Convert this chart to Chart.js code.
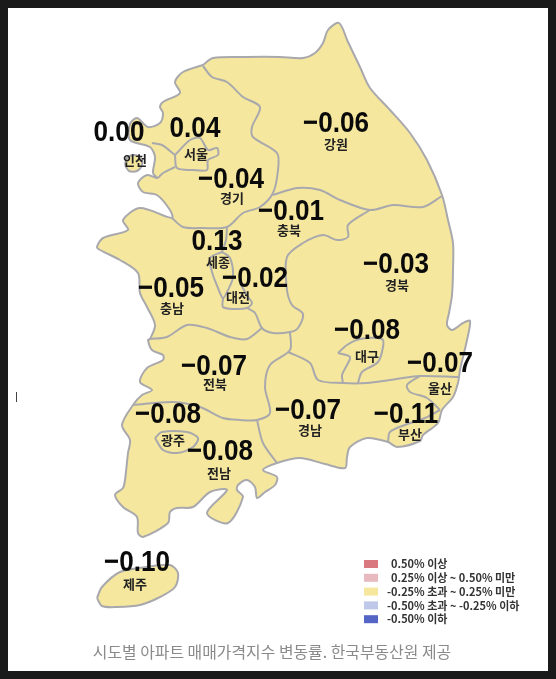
<!DOCTYPE html>
<html>
<head>
<meta charset="utf-8">
<style>
  html, body { margin: 0; padding: 0; background: #1a1a1a; }
  #panel { position: absolute; left: 8px; top: 8px; width: 540px; height: 663px; background: #fff; }
  #mapChart { position: absolute; left: 0; top: 0; filter: blur(0.35px); }
  #caption { position: absolute; left: 8px; top: 641px; width: 528px; text-align: center; color: #8a8a8a; font: 15.9px/22px "Noto Sans CJK KR"; white-space: nowrap; }
</style>
<script src="https://cdn.jsdelivr.net/npm/chart.js@4/dist/chart.umd.min.js"></script>
</head>
<body>
<div id="panel"></div>
<canvas id="mapChart" width="556" height="679"></canvas>
<div id="caption">시도별 아파트 매매가격지수 변동률. 한국부동산원 제공</div>
<script>
// region figures
const regionNames = ['인천', '서울', '경기', '충북', '강원', '세종', '대전', '충남', '경북', '대구', '울산', '경남', '부산', '전북', '광주', '전남', '제주'];
const regionValues = [0.00, 0.04, -0.04, -0.01, -0.06, 0.13, -0.02, -0.05, -0.03, -0.08, -0.07, -0.07, -0.11, -0.07, -0.08, -0.08, -0.10];
const valueAnchors = [[119,131],[195,127],[231,178],[291,210],[336,122],[217,240],[255,277],[171,287],[396,263],[367,329],[440,362],[308,409],[406,413],[214,365],[168,413],[220,450],[137,561]];
const nameAnchors = [[135,160],[196,154],[232,198],[289,230],[336,144],[218,262],[238,297],[172,308],[397,285],[367,356],[440,388],[310,430],[410,434],[215,384],[173,440],[219,473],[135,584]];

// legend
const legendLabels = ['0.50% 이상', '0.25% 이상 ~ 0.50% 미만', '-0.25% 초과 ~ 0.25% 미만', '-0.50% 초과 ~ -0.25% 이하', '-0.50% 이하'];
const legendColors = ['#d9787f', '#e8bac0', '#f5e89e', '#bfc8e8', '#5565c5'];

// land outlines
const mainland = [[203,65],[213,58],[247,57],[280,57],[303,58],[315,53],[323,43],[328,30],[339,23],[348,42],[360,67],[370,88],[390,110],[410,133],[427,160],[442,195],[448,220],[453,243],[453,270],[452,295],[449,313],[447,325],[452,330],[463,323],[470,321],[467,340],[460,370],[458,383],[453,397],[442,410],[438,423],[423,435],[420,441],[397,447],[388,442],[367,438],[350,447],[347,457],[345,468],[325,464],[300,458],[277,463],[263,470],[277,477],[275,485],[265,492],[257,498],[255,487],[247,480],[238,485],[237,490],[243,497],[228,523],[207,513],[227,490],[210,492],[193,507],[177,508],[170,512],[168,523],[143,537],[138,533],[137,517],[123,507],[115,495],[123,488],[125,480],[128,453],[130,440],[122,425],[133,405],[142,395],[152,390],[140,382],[147,368],[163,360],[163,355],[152,350],[148,340],[150,339],[155,325],[147,307],[140,293],[138,273],[120,260],[100,250],[97,247],[103,238],[128,230],[123,220],[140,208],[172,218],[170,210],[157,195],[143,192],[138,183],[147,175],[157,178],[153,173],[155,157],[150,147],[130,140],[130,124],[137,118],[148,127],[160,123],[163,113],[160,107],[163,102],[180,93],[175,82],[183,72],[203,65]];
const incheonIsland = [[125,165],[127,158],[134,155],[141,158],[142,165],[137,171],[129,171],[125,165]];
const jeju = [[97,598],[102,587],[120,572],[147,567],[170,565],[178,573],[175,587],[160,597],[140,605],[117,607],[102,606],[97,598]];

// province borders
const borders = [
  [[203,66],[212,77],[227,82],[243,97],[260,107],[252,127],[253,137],[277,153],[278,170],[273,193],[260,207],[243,213],[227,227],[203,228],[183,227],[172,218]],
  [[273,195],[297,188],[320,190],[340,200],[370,210],[393,205],[423,207],[442,196]],
  [[370,210],[348,225],[348,237],[337,240],[323,235],[303,243],[287,257],[287,290],[292,305],[303,314],[298,328],[290,332],[273,333],[262,328],[255,313],[247,308]],
  [[227,227],[226,240],[222,252]],
  [[150,339],[167,337],[187,325],[207,328],[230,337],[247,339],[262,328]],
  [[290,332],[290,350],[270,365],[265,387],[270,413],[257,420],[240,420],[223,418],[200,407],[173,402],[133,405]],
  [[257,420],[263,443],[277,463]],
  [[288,352],[310,363],[318,380],[343,383],[367,383],[390,380],[420,376],[458,377]],
  [[420,376],[407,385],[410,392],[427,398],[440,410]],
  [[440,410],[425,418],[405,425],[390,432],[388,442]],
  [[152,143],[162,145],[175,155]],
  [[175,167],[163,173],[158,178]]
];
const enclaves = [
  [[175,155],[190,140],[200,138],[208,150],[217,148],[218,155],[208,160],[207,170],[193,170],[177,168],[175,155]],
  [[338,353],[347,345],[360,339],[382,339],[383,347],[378,362],[362,372],[358,383]],
  [[338,353],[350,357],[347,365],[342,375],[343,383]],
  [[222,252],[230,258],[233,277],[228,290],[223,298],[218,288],[212,272],[210,258],[222,252]],
  [[223,298],[223,307],[233,309],[247,308],[252,303],[248,297],[240,283]],
  [[155,438],[162,432],[187,432],[198,438],[193,447],[177,453],[163,450],[155,438]]
];

const toPoints = line => line.map(p => ({ x: p[0], y: p[1] }));

function landDataset(line) {
    return {
        data: toPoints(line),
        order: 2,
        showLine: true,
        fill: 'shape',
        backgroundColor: '#f5e79e',
        borderColor: '#a9a9ad',
        borderWidth: 2,
        tension: 0.3,
        pointRadius: 0
    };
}

function borderDataset(line) {
    return {
        data: toPoints(line),
        order: 1,
        showLine: true,
        fill: false,
        borderColor: '#a9a9ad',
        borderWidth: 2,
        tension: 0.3,
        pointRadius: 0
    };
}

// value and name labels go on top, placed through the chart's scales
const mapLabels = {
    id: 'mapLabels',
    afterDatasetsDraw(chart) {
        const { ctx, scales: { x, y } } = chart;
        ctx.save();
        ctx.textAlign = 'center';
        ctx.textBaseline = 'middle';

        regionNames.forEach((name, i) => {
            const v = regionValues[i];
            const text = (v < 0 ? '\u2212' : '') + Math.abs(v).toFixed(2);
            // the figures are a condensed bold, so squeeze Liberation a bit
            ctx.save();
            ctx.translate(x.getPixelForValue(valueAnchors[i][0]), y.getPixelForValue(valueAnchors[i][1]) + 1.5);
            ctx.scale(0.87, 1);
            ctx.font = 'bold 30px "Liberation Sans"';
            ctx.fillStyle = '#0a0a0a';
            ctx.fillText(text, 0, 0);
            ctx.restore();
            ctx.font = 'bold 13px "Noto Sans CJK KR"';
            ctx.fillStyle = '#222';
            ctx.fillText(name, x.getPixelForValue(nameAnchors[i][0]), y.getPixelForValue(nameAnchors[i][1]));
        });

        // legend
        legendLabels.forEach((label, i) => {
            const py = y.getPixelForValue(564 + i * 13.8);
            ctx.fillStyle = legendColors[i];
            ctx.fillRect(x.getPixelForValue(364), py - 4, 14, 8);
            ctx.fillStyle = '#333';
            ctx.textAlign = 'left';
            ctx.font = 'bold 11px "Noto Sans CJK KR"';
            ctx.fillText(label, x.getPixelForValue(label.startsWith('-') ? 387 : 391), py);
        });

        ctx.fillStyle = '#444';
        ctx.fillRect(x.getPixelForValue(16), y.getPixelForValue(392), 1, 10);
        ctx.restore();
    }
};

new Chart(document.getElementById('mapChart'), {
    type: 'scatter',
    data: {
        datasets: [
            landDataset(mainland),
            landDataset(incheonIsland),
            landDataset(jeju),
            ...borders.map(borderDataset),
            ...enclaves.map(borderDataset)
        ]
    },
    options: {
        responsive: false,
        animation: false,
        plugins: { legend: { display: false }, tooltip: { enabled: false } },
        scales: {
            x: { display: false, min: 0, max: 556 },
            y: { display: false, min: 0, max: 679, reverse: true }
        }
    },
    plugins: [mapLabels]
});
</script>
</body>
</html>
